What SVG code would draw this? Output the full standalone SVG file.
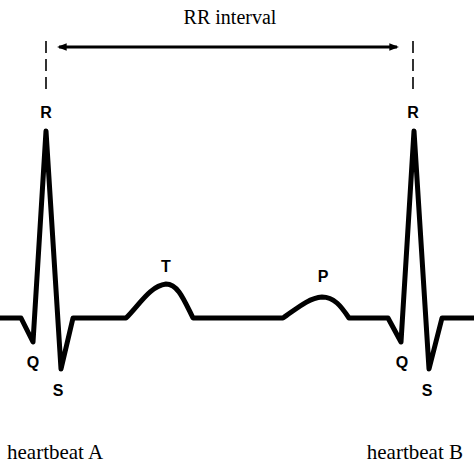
<svg xmlns="http://www.w3.org/2000/svg" width="474" height="474" viewBox="0 0 474 474">
<style>
.serif{font-family:"Liberation Serif","Times New Roman",serif;fill:#000}
.lbl{font-family:"Liberation Sans",Arial,sans-serif;font-weight:bold;font-size:16px;fill:#000;text-anchor:middle}
.ecg{fill:none;stroke:#000;stroke-width:5;stroke-linejoin:round;stroke-linecap:butt}
.dash{stroke:#000;stroke-width:1.6;stroke-dasharray:12 6}
</style>
<defs>
<marker id="ah" viewBox="0 0 10 10" refX="8" refY="5" markerWidth="3" markerHeight="3" orient="auto-start-reverse">
<path d="M0,1 L10,5 L0,9 z" fill="#000"/>
</marker>
</defs>
<rect width="474" height="474" fill="#fff"/>
<g id="connectors">
<line class="dash" x1="46" y1="41" x2="46" y2="93"/>
<line class="dash" x1="413" y1="41" x2="413" y2="93"/>
<line x1="59" y1="47" x2="397" y2="47" stroke="#000" stroke-width="3.2" marker-start="url(#ah)" marker-end="url(#ah)"/>
</g>
<g id="ecg-trace">
<path class="ecg" d="M0,318 L21,318 L33,342 L46,131 L61,369 L73,318 L126,318 C140,304 150,286 166,284 C178,284 184,300 193,318 L283,318 C295,310 308,298 322,297 C334,297 341,306 349,318 L388,318 L401,342 L414,131 L429,369 L442,318 L474,318"/>
</g>
<g id="rr-label"><text class="serif" x="230" y="24" font-size="20" text-anchor="middle">RR interval</text></g>
<g id="R1"><text class="lbl" x="46" y="118">R</text></g>
<g id="R2"><text class="lbl" x="413" y="118">R</text></g>
<g id="Q1"><text class="lbl" x="33" y="368">Q</text></g>
<g id="S1"><text class="lbl" x="58" y="396">S</text></g>
<g id="T"><text class="lbl" x="166" y="272">T</text></g>
<g id="P"><text class="lbl" x="323" y="282">P</text></g>
<g id="Q2"><text class="lbl" x="402" y="368">Q</text></g>
<g id="S2"><text class="lbl" x="427" y="396">S</text></g>
<g id="beatA"><text class="serif" x="7" y="459" font-size="21">heartbeat A</text></g>
<g id="beatB"><text class="serif" x="463" y="459" font-size="21" text-anchor="end">heartbeat B</text></g>
</svg>
